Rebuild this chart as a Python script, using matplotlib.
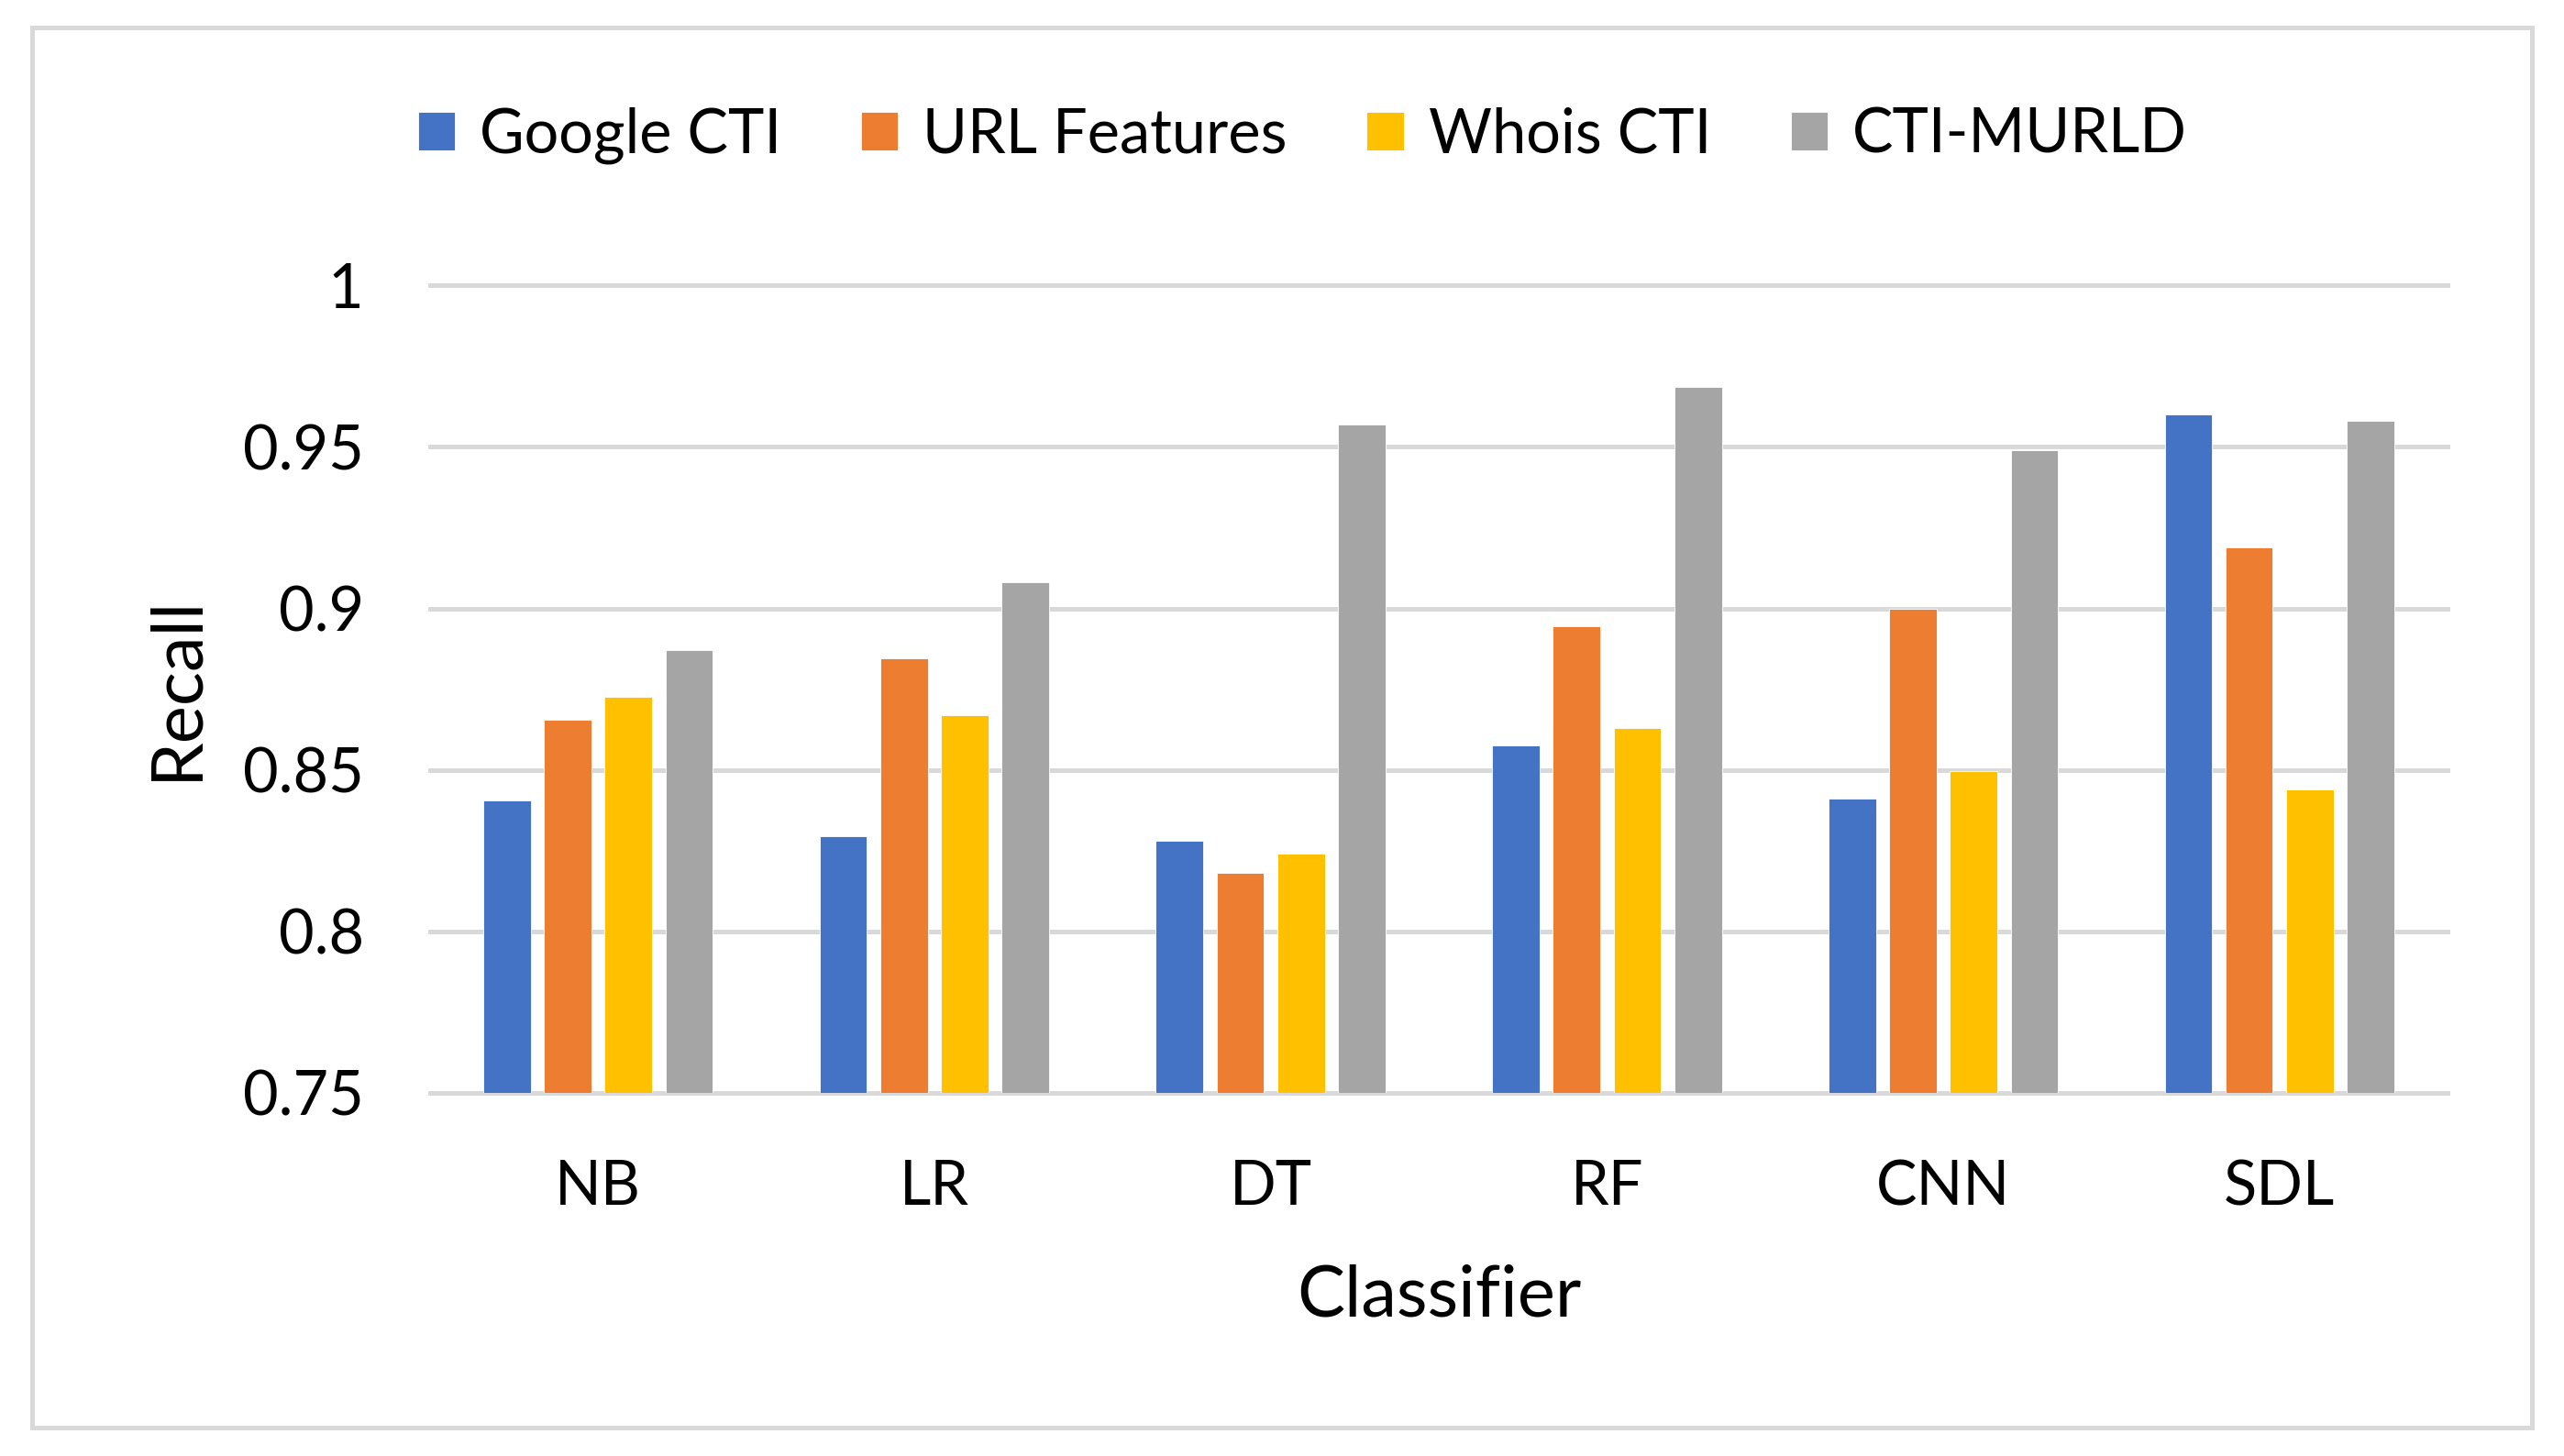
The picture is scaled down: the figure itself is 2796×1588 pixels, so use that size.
import matplotlib
matplotlib.use('Agg')
import matplotlib.pyplot as plt
import numpy as np
from matplotlib.patches import Rectangle

plt.rcParams['font.family'] = ['Lato', 'DejaVu Sans']

# data
classifiers = ['NB', 'LR', 'DT', 'RF', 'CNN', 'SDL']
google_cti = [0.8405, 0.8295, 0.828, 0.8575, 0.841, 0.960]
url_features = [0.8655, 0.8845, 0.818, 0.8945, 0.900, 0.919]
whois_cti = [0.8725, 0.867, 0.824, 0.863, 0.8495, 0.844]
cti_murld = [0.887, 0.908, 0.957, 0.9685, 0.949, 0.958]

series_names = ['Google CTI', 'URL Features', 'Whois CTI', 'CTI-MURLD']
colors = ['#4472C4', '#ED7D31', '#FFC000', '#A5A5A5']
yticks = [0.75, 0.8, 0.85, 0.9, 0.95, 1.0]
ytick_labels = ['0.75', '0.8', '0.85', '0.9', '0.95', '1']

fig = plt.figure(figsize=(13.98, 7.94), dpi=200)
ax = fig.add_axes([0.1677, 0.2494, 0.7869, 0.5546])

x = np.arange(len(classifiers))
width = 0.141
step = 0.1806
all_series = [google_cti, url_features, whois_cti, cti_murld]
for i, (vals, name, c) in enumerate(zip(all_series, series_names, colors)):
    ax.bar(x + (i - 1.5) * step, vals, width, color=c, label=name,
           edgecolor='white', linewidth=0.3, zorder=3)

ax.set_xlim(-0.5, len(classifiers) - 0.5)
ax.set_ylim(0.75, 1.0)
ax.set_yticks(yticks)
ax.set_yticklabels(ytick_labels)
ax.set_xticks(x)
ax.set_xticklabels(classifiers)
ax.tick_params(axis='both', length=0, labelsize=24)
ax.tick_params(axis='x', pad=26)
ax.tick_params(axis='y', pad=26)

for s in ax.spines.values():
    s.set_visible(False)
ax.yaxis.grid(True, color='#D9D9D9', linewidth=1.8, zorder=0)
ax.set_axisbelow(True)
for gl in ax.get_ygridlines():
    gl.set_clip_on(False)

fig.text(0.5612, 0.1095, 'Classifier', ha='center', va='center', fontsize=28)
fig.text(0.069, 0.528, 'Recall', ha='center', va='center', fontsize=28, rotation=90)

fig.legend(loc='center', bbox_to_anchor=(0.508, 0.907), ncol=4, frameon=False,
           fontsize=24, handlelength=0.61, handleheight=0.61, handletextpad=0.4,
           columnspacing=1.3)

# outer chart border
fig.patches.append(Rectangle((0.0125, 0.0195), 0.975, 0.9615, transform=fig.transFigure,
                             fill=False, edgecolor='#D9D9D9', linewidth=1.8))

fig.savefig('out.png', dpi=200)
